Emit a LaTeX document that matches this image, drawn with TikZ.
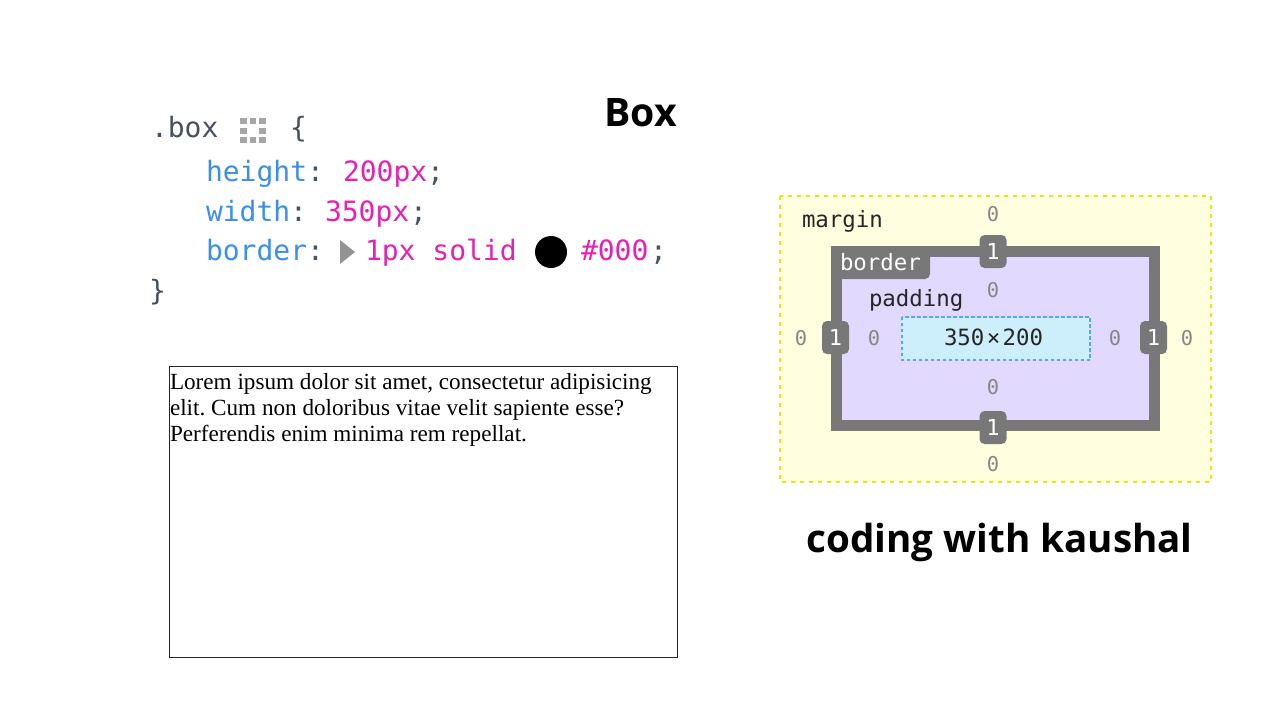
\documentclass[tikz,border=0pt]{standalone}
\usepackage{fontspec}
\setmainfont{Liberation Serif}
\newfontfamily\titlefont{Open Sans}
\newfontfamily\codefont{DejaVu Sans Mono}
\definecolor{cssblue}{HTML}{3A8FEE}
\definecolor{csspink}{HTML}{E620B4}
\definecolor{cssdark}{HTML}{46505E}
\definecolor{punct}{HTML}{4A5560}
\definecolor{marginbg}{HTML}{FFFFDF}
\definecolor{marginln}{HTML}{E8E810}
\definecolor{paddingbg}{HTML}{E2DAFE}
\definecolor{contentbg}{HTML}{CDEFFB}
\definecolor{contentln}{HTML}{55A8F8}
\definecolor{bordergr}{HTML}{787878}
\definecolor{numgr}{HTML}{868686}
\tikzset{
  txt/.style={inner sep=0pt,outer sep=0pt,anchor=base west},
  code/.style={txt,font=\codefont\fontsize{14}{14}\selectfont},
  lab/.style={txt,font=\codefont\fontsize{11.2}{12}\selectfont,text=black!85},
  num/.style={inner sep=0pt,anchor=center,font=\codefont\fontsize{10.2}{12}\selectfont,text=numgr},
  badge/.style={fill=bordergr,rounded corners=2.5pt,minimum width=13.5pt,minimum height=16.5pt,inner sep=0pt,text=white,font=\codefont\fontsize{11}{12}\selectfont},
  headline/.style={inner sep=0pt,anchor=base west,font=\titlefont\bfseries\fontsize{#1}{20}\selectfont,text=black},
  lorem/.style={txt,font=\frenchspacing\fontsize{11.58}{13}\selectfont},
}
\begin{document}
\begin{tikzpicture}[x=0.5pt,y=-0.5pt]
\useasboundingbox (0,0) rectangle (1280,720);
% code block
\node[code,text=cssdark] (sel) at (151,137) {.box};
\foreach \a/\b in {0/0,1/0,2/0,0/1,2/1,0/2,1/2,2/2}{
  \fill[black!35] ({240+\a*9.5},{118+\b*9.5}) rectangle +(6.5,6);}
\node[code,text=cssdark] (ob) at (290,137) {\{};
\node[code,text=cssblue] (h) at (206,181) {height};
\node[code,text=punct] (hc) at (307,181) {:};
\node[code,text=csspink] (hv) at (343,181) {200px};
\node[code,text=punct] (hs) at (427,181) {;};
\node[code,text=cssblue] (w) at (206,221) {width};
\node[code,text=punct] (wc) at (290,221) {:};
\node[code,text=csspink] (wv) at (325,221) {350px};
\node[code,text=punct] (ws) at (410,221) {;};
\node[code,text=cssblue] (b) at (206,260) {border};
\node[code,text=punct] (bc) at (307,260) {:};
\fill[black!42] (340,240) -- (355,252) -- (340,264) -- cycle;
\node[code,text=csspink] (bv) at (365,260) {1px solid};
\fill[black] (551,252) circle (16);
\node[code,text=csspink] (bh) at (581,260) {\#000};
\node[code,text=punct] (bs) at (650,260) {;};
\node[code,text=cssdark] (cb) at (149,300) {\}};
% title
\node[headline=19.6] (box) at (604,126) {Box};
% rendered box
\node[draw=black!85,line width=0.6pt,minimum width=254.2pt,minimum height=145.7pt,inner sep=0pt,anchor=north west] (page) at (168.5,365.5) {};
\node[lorem] (l1) at (170,389) {Lorem ipsum dolor sit amet, consectetur adipisicing};
\node[lorem] (l2) at (170,415) {elit. Cum non doloribus vitae velit sapiente esse?};
\node[lorem] (l3) at (170,441) {Perferendis enim minima rem repellat.};
% box model
\draw[marginln,fill=marginbg,line width=1.4pt,dash pattern=on 2pt off 2.5pt] (780,196) rectangle (1211,482);
\draw[bordergr,fill=paddingbg,line width=5.5pt] (836.5,251.5) rectangle (1154.5,425.5);
\draw[contentln,fill=contentbg,line width=1pt,dash pattern=on 1.6pt off 1.4pt] (901.5,317) rectangle (1090,360);
\fill[bordergr,rounded corners=2.5pt] (832,246) rectangle (930,279);
\node[lab,text=white] (bl) at (840,270) {border};
\node[lab] (ml) at (802,227) {margin};
\node[lab] (pl) at (869,306) {padding};
\node[lab] (size) at (944,345) {350\kern1.2pt×\kern1.2pt200};
\node[num] (mt) at (993,214) {0};
\node[num] (mb) at (993,464) {0};
\node[num] (ml0) at (801,338) {0};
\node[num] (mr0) at (1187,338) {0};
\node[num] (pt) at (993,290) {0};
\node[num] (pb) at (993,387) {0};
\node[num] (pl0) at (874,338) {0};
\node[num] (pr0) at (1115,338) {0};
\node[badge] (bt) at (993,251.5) {1};
\node[badge] (bbm) at (993,427.5) {1};
\node[badge] (bl1) at (835.5,337.5) {1};
\node[badge] (br1) at (1153.5,337.5) {1};
\node[headline=19.3] (credit) at (806,552) {coding with kaushal};
\end{tikzpicture}
\end{document}
